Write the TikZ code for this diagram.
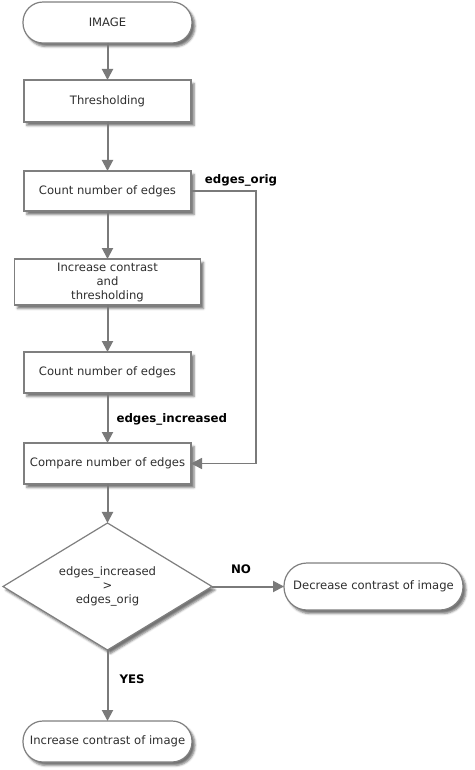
\documentclass[tikz,border=0pt]{standalone}
\usepackage{fontspec}
\setmainfont{DejaVu Sans}
\usetikzlibrary{shapes.geometric,arrows.meta,shadows.blur}
\definecolor{boxgray}{HTML}{7F7F7F}
\definecolor{linegray}{HTML}{7A7A7A}
\definecolor{textgray}{HTML}{2E2E2E}

\begin{document}
\begin{tikzpicture}[x=1pt,y=1pt,
						box/.style={
						draw=boxgray,line width=1.2pt,fill=white,text=textgray,
						font=\fontsize{11.6}{14}\selectfont,anchor=center,
						inner sep=0pt,outer sep=0pt,minimum width=167pt,minimum height=41pt,
						blur shadow={shadow xshift=3pt,shadow yshift=-3.5pt,shadow opacity=55}},
						term/.style={box,rounded corners=20pt,minimum width=169pt},
						test/.style={box,diamond,aspect=1.65,align=center,
						minimum width=209pt,minimum height=127pt},
						flow/.style={draw=linegray,line width=2pt,
						-{Triangle[width=11pt,length=11pt]}},
						tag/.style={font=\bfseries\fontsize{11.8}{13}\selectfont,inner sep=0pt}]

		\useasboundingbox (0,0) rectangle (474,-770);

		\matrix (m) [column sep=70.8pt,row sep=46.8pt,anchor=north west,inner sep=0pt,outer sep=0pt] at (2.4,-1.4)
		{
			\node [term] (img) {IMAGE}; & \\[-11pt]
			\node [box,minimum height=42pt] (thr) {Thresholding}; & \\[1pt]
			\node [box,minimum height=40pt] (cnt1) {Count number of edges}; & \\
			\node [box,align=center,minimum width=186pt,minimum height=46pt] (inc) {Increase contrast\\and\\thresholding}; & \\[-1pt]
			\node [box] (cnt2) {Count number of edges}; & \\[2pt]
			\node [box] (cmp) {Compare number of edges}; & \\[-9pt]
			\node [test] (d) {edges\_increased\\>\\edges\_orig}; &
			\node [term,minimum width=179pt,minimum height=47pt,rounded corners=23pt] (dec) {Decrease contrast of image}; \\[23pt]
			\node [term] (incimg) {Increase contrast of image}; & \\
		};

		\draw[flow] (img) -- (thr);
		\draw[flow] (thr) -- (cnt1);
		\draw[flow] (cnt1) -- (inc);
		\draw[flow] (inc) -- (cnt2);
		\draw[flow] (cnt2) -- node[tag,right=8pt,yshift=-1pt] {edges\_increased} (cmp);
		\draw[flow] (cmp) -- (d);
		\draw[flow] (d) -- node[tag,above=12pt,xshift=-7pt] {NO} (dec);
		\draw[flow] (d) -- node[tag,right=11pt,yshift=6pt] {YES} (incimg);
		\draw[flow,line width=1.4pt] (cnt1.east) -- ++(65,0) node[tag,above=4pt,xshift=-15pt] {edges\_orig} |- (cmp.east);

	\end{tikzpicture}
\end{document}
